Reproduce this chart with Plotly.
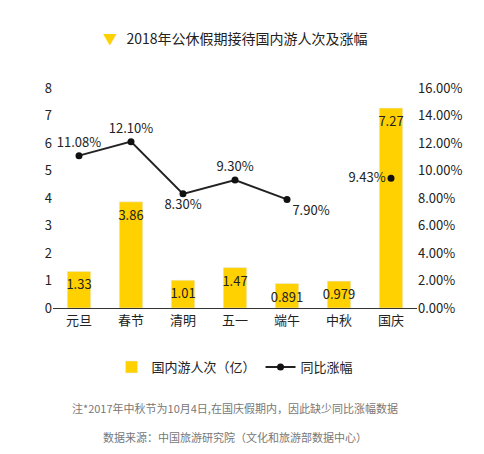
import plotly.graph_objects as go

categories = ["元旦", "春节", "清明", "五一", "端午", "中秋", "国庆"]
visitors = [1.33, 3.86, 1.01, 1.47, 0.891, 0.979, 7.27]
visitor_labels = ["1.33", "3.86", "1.01", "1.47", "0.891", "0.979", "7.27"]
growth = [11.08, 12.10, 8.30, 9.30, 7.90, None, 9.43]
growth_labels = ["11.08%", "12.10%", "8.30%", "9.30%", "7.90%", "", "9.43%"]
growth_pos = ["top center", "top center", "bottom center", "top center", "bottom right", "top center", "middle left"]

fig = go.Figure()
fig.add_bar(x=categories, y=visitors, name="国内游人次（亿）", marker_color="#FFD100",
            width=0.45, text=visitor_labels, textposition="inside", insidetextanchor="end",
            textangle=0, textfont=dict(size=13, color="#222"), constraintext="none", cliponaxis=False)
fig.add_scatter(x=categories, y=growth, name="同比涨幅", yaxis="y2", mode="lines+markers+text",
                line=dict(color="#222", width=2), marker=dict(color="#111", size=7),
                text=growth_labels, textposition=growth_pos, textfont=dict(size=13, color="#222"),
                connectgaps=False, cliponaxis=False)

fig.update_layout(
    width=484, height=454, paper_bgcolor="white", plot_bgcolor="white",
    font=dict(family="Noto Sans CJK SC", color="#222"),
    margin=dict(l=45, r=75, t=80, b=154),
    uniformtext=dict(mode=False),
    showlegend=True,
    legend=dict(orientation="h", x=0.5, xanchor="center", y=-0.2, yanchor="top", font=dict(size=13)),
    xaxis=dict(showline=True, linecolor="#333", tickfont=dict(size=13), ticks=""),
    yaxis=dict(range=[0, 8], dtick=1, showgrid=False, zeroline=False, tickfont=dict(size=13)),
    yaxis2=dict(range=[0, 16], dtick=2, overlaying="y", side="right", showgrid=False,
                ticksuffix="%", tickformat=".2f", tickfont=dict(size=13), zeroline=False),
    annotations=[
        dict(text="<span style='color:#FFD100'>▼</span>   2018年公休假期接待国内游人次及涨幅", x=0.5, y=1, xref="paper",
             yref="paper", xanchor="center", yanchor="bottom", yshift=38, showarrow=False, font=dict(size=14)),
        dict(text="注*2017年中秋节为10月4日,在国庆假期内，因此缺少同比涨幅数据", xref="paper", yref="paper",
             x=0.5, y=-0.5, xanchor="center", showarrow=False, font=dict(size=11, color="#777")),
        dict(text="数据来源：中国旅游研究院（文化和旅游部数据中心）", xref="paper", yref="paper",
             x=0.5, y=-0.63, xanchor="center", showarrow=False, font=dict(size=11, color="#777")),
    ],
)
fig.write_html("out.html")
